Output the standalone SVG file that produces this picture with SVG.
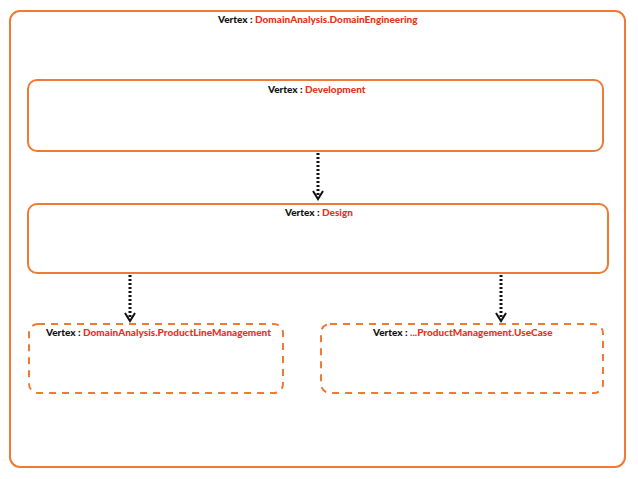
<svg xmlns="http://www.w3.org/2000/svg" width="638" height="479" viewBox="0 0 638 479">
<style>
.box{fill:#fff;stroke:#ee7a36;stroke-width:2}
.dash{stroke-dasharray:7,6}
text{font-family:Lato,"Liberation Sans",sans-serif;font-weight:900;font-size:10px;fill:#111}
.r{fill:#e8321e}
.c{fill:none;stroke:#111;stroke-width:3;stroke-dasharray:2,2}
.h{fill:none;stroke:#111;stroke-width:2}
</style>
<rect width="638" height="479" fill="#fff"/>
<g id="domainEngineering"><rect class="box" x="10" y="11" width="615" height="456" rx="10"/><text x="218" y="23">Vertex : <tspan class="r">DomainAnalysis.DomainEngineering</tspan></text></g>
<g id="development"><rect class="box" x="28" y="80" width="575" height="71" rx="9"/><text x="268" y="93">Vertex : <tspan class="r">Development</tspan></text></g>
<g id="design"><rect class="box" x="28" y="204" width="580" height="69" rx="9"/><text x="285" y="216">Vertex : <tspan class="r">Design</tspan></text></g>
<g id="plm"><rect class="box dash" x="29" y="324" width="254" height="69" rx="9"/><text x="46" y="336">Vertex : <tspan class="r">DomainAnalysis.ProductLineManagement</tspan></text></g>
<g id="usecase"><rect class="box dash" x="321" y="324" width="282" height="69" rx="9"/><text x="373" y="336">Vertex : <tspan class="r">...ProductManagement.UseCase</tspan></text></g>
<g id="connectors">
<path class="c" d="M318 153V198"/><path class="h" d="M313 191l5 8 5-8"/>
<path class="c" d="M130 275V320"/><path class="h" d="M125 313l5 8 5-8"/>
<path class="c" d="M501 275V320"/><path class="h" d="M496 313l5 8 5-8"/>
</g>
</svg>
